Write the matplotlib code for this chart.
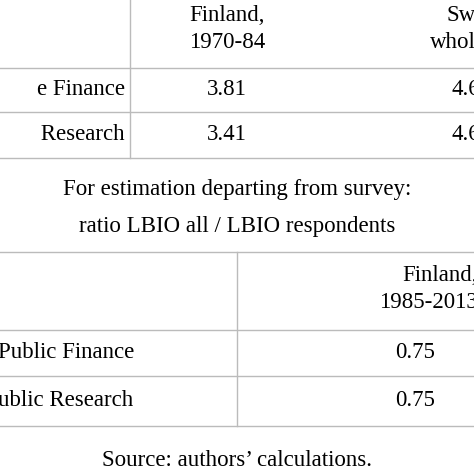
import matplotlib
matplotlib.use("Agg")
import matplotlib.pyplot as plt

plt.rcParams["font.family"] = ["Liberation Serif", "DejaVu Serif"]

top_header = ["Finland,\n1970-84", "Swe\nwhole"]
top_rows = ["e Finance", " Research"]
top_vals = [["3.81", "4.6"], ["3.41", "4.6"]]
caption = ["For estimation departing from survey:", "ratio LBIO all / LBIO respondents"]
low_header = "Finland,\n1985-2013"
low_rows = ["Public Finance", "ublic Research"]
low_vals = ["0.75", "0.75"]
source = "Source: authors\u2019 calculations."

fig = plt.figure(figsize=(4.74, 4.74), dpi=100)
ax = fig.add_axes([0, 0, 1, 1])
ax.set_xlim(0, 474)
ax.set_ylim(474, 0)
ax.axis("off")
fs = 16.5
lc = "#bbbbbb"

# top table
for y in [68, 112, 158]:
    ax.plot([0, 474], [y, y], color=lc, lw=1)
ax.plot([130, 130], [0, 158], color=lc, lw=1)
ax.text(227, 29, top_header[0], ha="center", va="center", fontsize=fs, linespacing=1.4)
ax.text(430, 29, top_header[1], ha="left", va="center", fontsize=fs, linespacing=1.4,
        multialignment="right")
for i, (lab, vals) in enumerate(zip(top_rows, top_vals)):
    y = 89 + 45 * i
    ax.text(125, y, lab, ha="right", va="center", fontsize=fs)
    ax.text(227, y, vals[0], ha="center", va="center", fontsize=fs)
    ax.text(452, y, vals[1], ha="left", va="center", fontsize=fs)

# caption
for i, c in enumerate(caption):
    ax.text(237, 190 + 36 * i, c, ha="center", va="center", fontsize=fs)

# lower table
for y in [252, 330, 376, 426]:
    ax.plot([0, 474], [y, y], color=lc, lw=1)
ax.plot([237, 237], [252, 426], color=lc, lw=1)
ax.text(478, 289, low_header, ha="right", va="center", fontsize=fs, linespacing=1.4)
for i, (lab, v) in enumerate(zip(low_rows, low_vals)):
    y = 353 + 48 * i
    ax.text(-2, y, lab, ha="left", va="center", fontsize=fs)
    ax.text(415, y, v, ha="center", va="center", fontsize=fs)

ax.text(237, 461, source, ha="center", va="center", fontsize=fs)
fig.savefig("out.png", dpi=100)
